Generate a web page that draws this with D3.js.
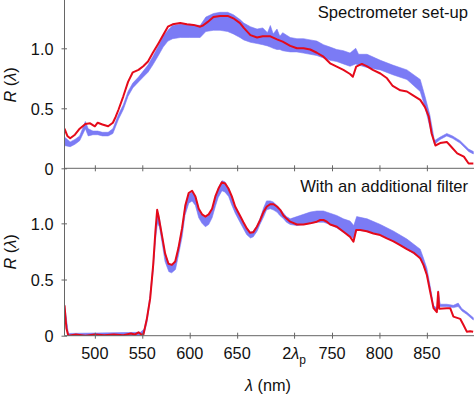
<!DOCTYPE html>
<html><head><meta charset="utf-8">
<script src="https://cdn.jsdelivr.net/npm/d3@7"></script>
<style>
html,body{margin:0;padding:0;background:#fff;}
svg{display:block;font-family:"Liberation Sans",Arial,Helvetica,sans-serif;}
</style></head>
<body>
<svg id="chart" width="474" height="397"></svg>
<script>
// ---- DATA ----
// x axis ticks (nm); 710 is labelled 2λp
const xTicks = [500, 550, 600, 650, 710, 750, 800, 850];
const xTickLabels = ["500", "550", "600", "650", "2λp", "750", "800", "850"];
const yTicks = [0, 0.5, 1.0];
const yTickLabels = ["0", "0.5", "1.0"];
const panelTitles = ["Spectrometer set-up", "With an additional filter"];

// Top panel: red curve [λ, R]
const topRed = [[468,0.33],[471,0.27],[474,0.25],[479,0.28],[484,0.33],[490,0.37],[495,0.375],[500,0.35],[503,0.38],[508,0.365],[514,0.35],[519,0.38],[522,0.43],[525,0.49],[530,0.60],[535,0.72],[540,0.80],[546,0.82],[551,0.85],[556,0.89],[561,0.96],[567,1.04],[572,1.11],[577,1.18],[582,1.20],[590,1.21],[597,1.20],[604,1.195],[611,1.18],[614,1.19],[619,1.22],[625,1.26],[632,1.27],[640,1.27],[646,1.25],[653,1.21],[657,1.17],[664,1.11],[671,1.09],[677,1.10],[685,1.10],[692,1.075],[698,1.055],[706,1.02],[713,1.0],[720,1.0],[727,0.99],[734,0.963],[741,0.93],[748,0.875],[755,0.847],[762,0.82],[769,0.786],[772,0.763],[775.5,0.847],[781.5,0.87],[787,0.85],[793,0.82],[801,0.79],[808,0.75],[814,0.686],[822,0.65],[829,0.64],[835,0.61],[843,0.57],[848,0.51],[852,0.43],[855,0.29],[859,0.19],[864,0.21],[871,0.22],[874.5,0.19],[882,0.125],[889,0.097],[894,0.04],[899,0.04]];
// Top panel: blue band [λ, low, high]
const topBlue = [[468,0.19,0.26],[474,0.18,0.22],[479,0.20,0.24],[484,0.23,0.27],[490,0.33,0.39],[493,0.27,0.33],[498,0.28,0.31],[503,0.28,0.31],[508,0.27,0.30],[514,0.27,0.30],[519,0.29,0.33],[525,0.41,0.45],[530,0.49,0.53],[535,0.60,0.64],[540,0.67,0.71],[546,0.72,0.76],[551,0.76,0.81],[556,0.80,0.86],[561,0.86,0.93],[567,0.94,1.02],[572,1.01,1.10],[577,1.06,1.15],[582,1.08,1.19],[590,1.09,1.20],[600,1.09,1.20],[611,1.09,1.19],[617,1.14,1.26],[625,1.15,1.29],[632,1.15,1.30],[640,1.14,1.30],[646,1.12,1.28],[653,1.09,1.24],[657,1.07,1.21],[664,1.05,1.18],[671,1.04,1.16],[677,1.03,1.17],[682,1.02,1.13],[685,1.01,1.19],[688,1.00,1.12],[692,0.99,1.16],[695,0.99,1.10],[698,0.98,1.13],[706,0.97,1.09],[713,0.97,1.08],[720,0.96,1.08],[727,0.95,1.07],[734,0.94,1.06],[741,0.92,1.03],[748,0.90,1.01],[755,0.89,0.99],[762,0.87,0.98],[769,0.85,0.96],[775,0.87,1.00],[778,0.86,0.95],[787,0.84,0.95],[801,0.82,0.90],[814,0.78,0.86],[829,0.74,0.82],[843,0.64,0.74],[848,0.51,0.60],[853,0.35,0.45],[858,0.20,0.23],[864,0.24,0.26],[871,0.27,0.29],[877,0.25,0.27],[885,0.21,0.23],[894,0.14,0.16],[899,0.12,0.14]];

// Bottom panel: red curve [λ, R]
const botRed = [[468,0.27],[470,0.066],[472,0.0],[480,0.01],[490,0.0],[500,0.01],[510,0.005],[520,0.01],[530,0.005],[538,0.02],[542,0.01],[546,0.03],[549,0.01],[551.2,0.01],[554.8,0.15],[558.3,0.33],[561.5,0.63],[563.8,0.925],[565.7,1.12],[567,1.07],[570.6,0.9],[574.1,0.73],[577.6,0.64],[581.2,0.63],[584.7,0.66],[588.1,0.78],[591.9,0.955],[595.4,1.16],[598.9,1.27],[602.5,1.29],[606,1.24],[609.5,1.13],[613,1.08],[616.5,1.06],[620,1.08],[623.6,1.13],[627,1.24],[630.3,1.31],[633.9,1.365],[637.4,1.355],[640.8,1.31],[644.4,1.24],[647.9,1.15],[653.2,1.065],[656.6,1.01],[660.2,0.955],[663.7,0.916],[666.9,0.92],[670.8,0.97],[674.3,1.03],[677.7,1.10],[681.3,1.15],[684.8,1.17],[688.3,1.17],[691.9,1.15],[695.4,1.12],[698.8,1.07],[702.4,1.04],[705.9,1.015],[713,0.99],[720,0.99],[727,1.0],[734,1.015],[737.6,1.03],[741,1.03],[744.6,1.015],[748.1,0.99],[755.1,0.97],[762.1,0.925],[769.1,0.88],[772.6,0.836],[775.5,0.94],[779.7,0.94],[786.7,0.93],[793.7,0.91],[800.8,0.896],[807.8,0.866],[814.8,0.84],[821.8,0.807],[828.9,0.77],[835.9,0.74],[842.9,0.69],[846.4,0.63],[850,0.54],[853.5,0.39],[857,0.245],[860.5,0.21],[861.9,0.39],[863,0.24],[871,0.245],[874.6,0.245],[878,0.17],[885.1,0.15],[888.6,0.095],[892.1,0.036],[895.6,0.04],[898.8,0.035]];
// Bottom panel: blue band [λ, low, high]
const botBlue = [[468,0.25,0.28],[472,0.0,0.02],[548,0.0,0.03],[552,0.02,0.06],[555,0.12,0.17],[558,0.30,0.35],[561.5,0.58,0.64],[564,0.86,0.93],[566,1.00,1.10],[568,0.97,1.05],[571,0.82,0.89],[574,0.66,0.73],[578,0.57,0.64],[581,0.56,0.63],[585,0.59,0.66],[588,0.71,0.78],[592,0.88,0.96],[595,1.07,1.15],[599,1.18,1.26],[602.5,1.20,1.28],[606,1.16,1.24],[609.5,1.05,1.13],[613,1.00,1.07],[616.5,0.97,1.05],[620,0.99,1.07],[623.6,1.05,1.12],[627,1.15,1.23],[630,1.23,1.31],[634,1.29,1.38],[637,1.28,1.37],[641,1.24,1.31],[644,1.17,1.24],[648,1.09,1.15],[653,1.01,1.06],[660,0.90,0.96],[664,0.87,0.92],[667,0.88,0.93],[671,0.93,0.98],[674,0.99,1.04],[678,1.06,1.14],[681,1.12,1.20],[685,1.13,1.20],[688,1.12,1.19],[692,1.10,1.16],[695,1.07,1.13],[699,1.04,1.09],[702,1.01,1.06],[706,0.99,1.04],[713,0.98,1.06],[720,0.99,1.08],[727,1.00,1.10],[734,1.01,1.11],[741,1.01,1.11],[748,0.99,1.09],[755,0.96,1.07],[762,0.92,1.04],[769,0.89,1.02],[773,0.86,0.98],[776,0.94,1.06],[787,0.93,1.04],[801,0.90,0.99],[815,0.84,0.93],[829,0.77,0.86],[843,0.69,0.77],[846,0.63,0.70],[850,0.54,0.60],[854,0.39,0.42],[857,0.25,0.27],[861,0.22,0.24],[862,0.38,0.40],[864,0.26,0.28],[871,0.26,0.28],[878,0.25,0.27],[883,0.26,0.29],[887,0.22,0.24],[892,0.19,0.21],[899,0.14,0.16]];

// ---- DRAW ----
const RED = "#e50a1a", BLUE = "#7b7bf5", AXIS = "#666";
const svg = d3.select("#chart");
const x = d3.scaleLinear().domain([468, 900]).range([64.5, 474.3]);
const yTop = d3.scaleLinear().domain([0, 1.4]).range([168.3, 0.3]);
const yBot = d3.scaleLinear().domain([0, 1.49]).range([335.7, 168.3]);

const defs = svg.append("defs");
function panel(id, y, red, blue, title, titleY, labelY, showXLabels) {
  const [y0, y1] = [y.range()[1], y.range()[0]];
  defs.append("clipPath").attr("id", id).append("rect")
    .attr("x", 64.5).attr("y", y0 - 2).attr("width", 474 - 64.5).attr("height", y1 - y0 + 2);
  const g = svg.append("g").attr("clip-path", `url(#${id})`);
  g.append("path").datum(blue)
    .attr("fill", BLUE).attr("stroke", BLUE).attr("stroke-width", 0.6)
    .attr("d", d3.area().x(d => x(d[0])).y0(d => y(d[1])).y1(d => y(d[2])));
  g.append("path").datum(red)
    .attr("fill", "none").attr("stroke", RED).attr("stroke-width", 2).attr("stroke-linejoin", "round")
    .attr("d", d3.line().x(d => x(d[0])).y(d => y(d[1])));

  // x axis
  const xa = svg.append("g").attr("transform", `translate(0,${y1})`)
    .call(d3.axisBottom(x).tickValues(xTicks).tickSize(3).tickFormat(""));
  xa.select(".domain").attr("stroke", AXIS).attr("d", `M64.5,0H474`);
  xa.selectAll(".tick line").attr("stroke", AXIS).attr("y1", -3).attr("y2", 3);
  // y axis
  const ya = svg.append("g").attr("transform", `translate(64.5,0)`)
    .call(d3.axisLeft(y).tickValues(yTicks).tickSize(3).tickFormat(""));
  ya.select(".domain").attr("stroke", AXIS).attr("d", `M0,${y0 - 0.3}V${y1}`);
  ya.selectAll(".tick line").attr("stroke", AXIS).attr("x1", -3).attr("x2", 2.5);
  ya.selectAll(".tick").append("text").attr("x", -11).attr("dy", "0.36em")
    .attr("text-anchor", "end").attr("fill", "#111").attr("font-size", 16.3)
    .text((d, i) => yTickLabels[i]);

  // y label R(λ)
  const yl = svg.append("text").attr("transform", `translate(16,${labelY}) rotate(-90)`)
    .attr("text-anchor", "middle").attr("font-size", 16.3).attr("fill", "#111");
  yl.append("tspan").attr("font-style", "italic").text("R");
  yl.append("tspan").text(" (");
  yl.append("tspan").attr("font-style", "italic").text("λ");
  yl.append("tspan").text(")");

  svg.append("text").attr("x", 468).attr("y", titleY).attr("text-anchor", "end")
    .attr("font-size", 16.6).attr("fill", "#111").text(title);

  if (showXLabels) {
    xTicks.forEach((v, i) => {
      const t = svg.append("text").attr("x", x(v)).attr("y", 359)
        .attr("text-anchor", "middle").attr("font-size", 16.3).attr("fill", "#111");
      const lab = xTickLabels[i];
      if (lab === "2λp") {
        t.append("tspan").text("2");
        t.append("tspan").attr("font-style", "italic").text("λ");
        t.append("tspan").attr("font-size", 12).attr("dy", 5).text("p");
      } else t.text(lab);
    });
  }
}
panel("cTop", yTop, topRed, topBlue, panelTitles[0], 18, 85, false);
panel("cBot", yBot, botRed, botBlue, panelTitles[1], 191.5, 252, true);

const xl = svg.append("text").attr("x", 268).attr("y", 391).attr("text-anchor", "middle")
  .attr("font-size", 16.3).attr("fill", "#111");
xl.append("tspan").attr("font-style", "italic").text("λ");
xl.append("tspan").text(" (nm)");
</script>
</body></html>
